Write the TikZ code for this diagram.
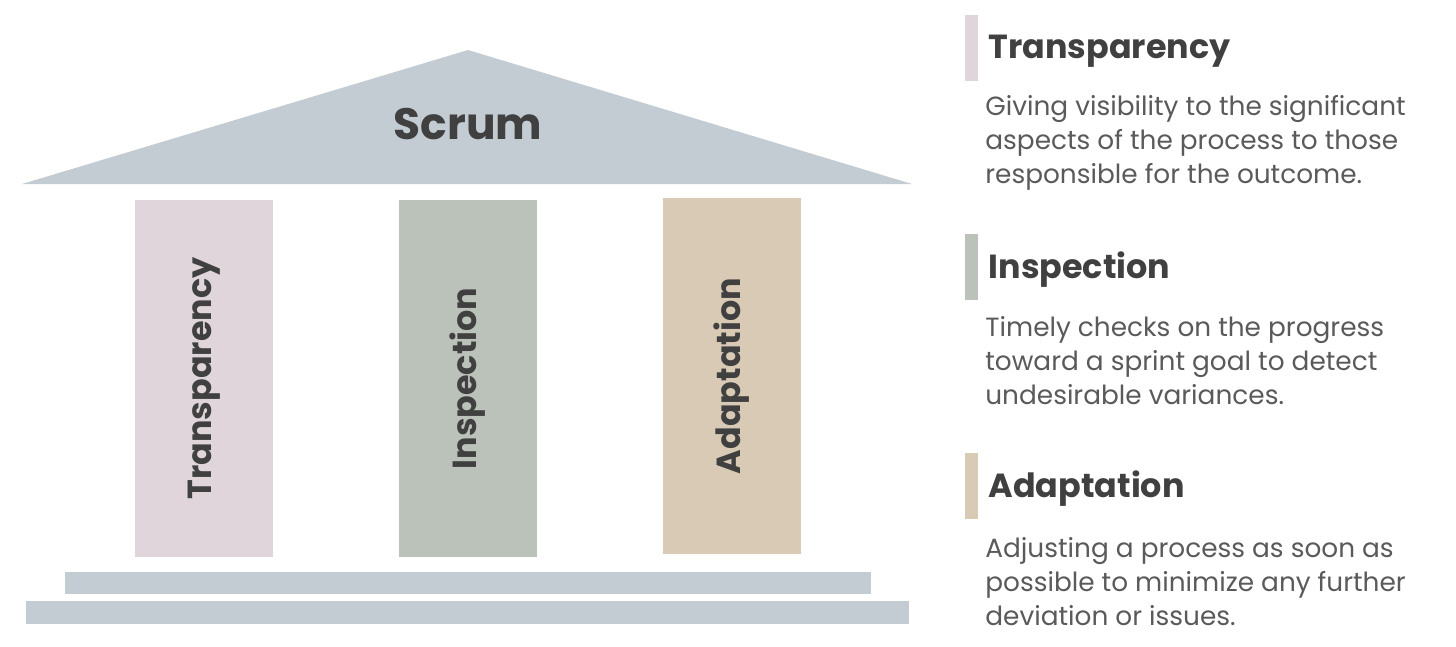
\documentclass[tikz,border=0pt]{standalone}
\usepackage{fontspec}
\setmainfont{Poppins}
\usetikzlibrary{positioning}

\definecolor{roofgray}{HTML}{C3CBD3}
\definecolor{pinkish}{HTML}{E0D5DA}
\definecolor{sage}{HTML}{BBC2BA}
\definecolor{sand}{HTML}{D8CAB5}
\definecolor{inkdark}{HTML}{404040}
\definecolor{inkgray}{HTML}{5A5A5A}

\begin{document}
\begin{tikzpicture}[
    x=0.02cm, y=-0.02cm,
    pillar/.style={rotate=90, minimum width=7.14cm, minimum height=2.76cm, inner sep=0pt, text=inkdark, font=\fontsize{19}{23}\selectfont\bfseries},
    plinth/.style={fill=roofgray, inner sep=0pt},
    tag/.style={minimum width=0.26cm, minimum height=1.32cm, inner sep=0pt},
    head/.style={anchor=west, inner sep=0pt, yshift=-0.06cm, text=inkdark, font=\fontsize{19}{23}\selectfont\bfseries},
    desc/.style={anchor=north west, inner sep=0pt, align=left, text=inkgray, font=\fontsize{15}{19.4}\selectfont}
]
\useasboundingbox (0,0) rectangle (1456,646);

% roof
\coordinate (apex) at (468,50);
\coordinate (eaveL) at (22,184);
\coordinate (eaveR) at (912,184);
\fill[roofgray] (apex) -- (eaveR) -- (eaveL) -- cycle;
\node[text=inkdark, font=\fontsize{25}{30}\selectfont\bfseries] (scrum) at (468,124) {Scrum};

% pillars
\node[pillar, fill=pinkish] (p1) at (204,378.5) {Transparency};
\node[pillar, fill=sage] (p2) at (468,378.5) {Inspection};
\node[pillar, fill=sand] (p3) at (732,376) {Adaptation};

% base steps
\node[plinth, minimum width=16.12cm, minimum height=0.44cm] (step1) at (468,583) {};
\node[plinth, minimum width=17.66cm, minimum height=0.46cm] (step2) at (467.5,612.5) {};

% legend
\node[tag, fill=pinkish] (t1) at (971.5,48) {};
\node[head, right=0.2cm of t1] (h1) {Transparency};
\node[desc] (d1) at (985,95) {Giving visibility to the significant\\aspects of the process to those\\responsible for the outcome.};

\node[tag, fill=sage] (t2) at (971.5,267) {};
\node[head, right=0.2cm of t2] (h2) {Inspection};
\node[desc] (d2) at (985,316) {Timely checks on the progress\\toward a sprint goal to detect\\undesirable variances.};

\node[tag, fill=sand] (t3) at (971.5,486) {};
\node[head, right=0.2cm of t3] (h3) {Adaptation};
\node[desc] (d3) at (985,537) {Adjusting a process as soon as\\possible to minimize any further\\deviation or issues.};
\end{tikzpicture}
\end{document}
